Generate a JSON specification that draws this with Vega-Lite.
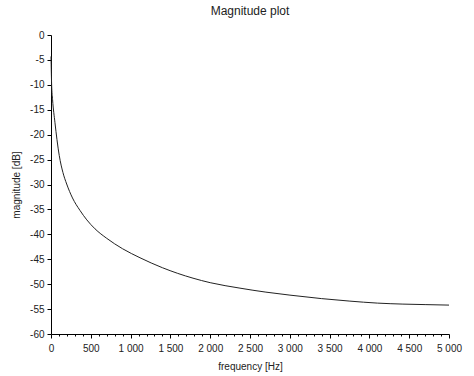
{
  "$schema": "https://vega.github.io/schema/vega-lite/v6.json",
  "width": 398,
  "height": 299,
  "autosize": {"type": "none"},
  "padding": {"left": 51, "top": 35, "right": 25, "bottom": 42},
  "background": "white",
  "config": {
    "view": {"stroke": null},
    "font": "Liberation Sans",
    "axis": {"grid": false, "domainColor": "#000", "tickColor": "#000", "labelColor": "#222", "titleColor": "#222", "labelFont": "Liberation Sans", "titleFont": "Liberation Sans", "labelFontSize": 10, "titleFontSize": 10, "titleFontWeight": "normal", "labelFlush": false, "labelOverlap": false}
  },
  "title": {"text": "Magnitude plot", "fontSize": 12, "fontWeight": "normal", "color": "#222", "font": "Liberation Sans", "anchor": "middle", "offset": 12},
  "data": {"values": [
    {"f": 0, "db": -4.3},
    {"f": 8, "db": -10.0},
    {"f": 20, "db": -13.0},
    {"f": 50, "db": -17.6},
    {"f": 75, "db": -21.0},
    {"f": 104, "db": -24.2},
    {"f": 150, "db": -27.6},
    {"f": 197, "db": -29.9},
    {"f": 270, "db": -32.7},
    {"f": 364, "db": -35.2},
    {"f": 450, "db": -37.1},
    {"f": 553, "db": -38.9},
    {"f": 700, "db": -40.8},
    {"f": 900, "db": -42.9},
    {"f": 1118, "db": -44.7},
    {"f": 1400, "db": -46.7},
    {"f": 1784, "db": -48.8},
    {"f": 2000, "db": -49.7},
    {"f": 2374, "db": -50.8},
    {"f": 2700, "db": -51.6},
    {"f": 3002, "db": -52.2},
    {"f": 3400, "db": -52.9},
    {"f": 3755, "db": -53.4},
    {"f": 4100, "db": -53.8},
    {"f": 4421, "db": -54.0},
    {"f": 4700, "db": -54.1},
    {"f": 5000, "db": -54.2}
  ]},
  "layer": [
    {
      "mark": {"type": "line", "color": "#222", "strokeWidth": 1, "interpolate": "monotone"},
      "encoding": {
        "x": {"field": "f", "type": "quantitative", "scale": {"domain": [0, 5000], "nice": false},
          "axis": {"title": "frequency [Hz]", "orient": "bottom", "values": [0, 500, 1000, 1500, 2000, 2500, 3000, 3500, 4000, 4500, 5000], "tickSize": 4, "labelPadding": 5, "titlePadding": 8, "labelExpr": "replace(format(datum.value, ',d'), ',', ' ')"}},
        "y": {"field": "db", "type": "quantitative", "scale": {"domain": [-60, 0], "nice": false},
          "axis": {"title": "magnitude [dB]", "values": [0, -5, -10, -15, -20, -25, -30, -35, -40, -45, -50, -55, -60], "tickSize": 4, "labelPadding": 3, "titlePadding": 8, "labelExpr": "datum.value < 0 ? '-' + format(-datum.value, 'd') : '0'"}}
      }
    },
    {
      "mark": {"type": "line", "opacity": 0},
      "encoding": {
        "x": {"field": "f", "type": "quantitative", "scale": {"domain": [0, 5000], "nice": false},
          "axis": {"title": null, "orient": "bottom", "labels": false, "domain": false, "tickSize": 2, "values": [100,200,300,400,600,700,800,900,1100,1200,1300,1400,1600,1700,1800,1900,2100,2200,2300,2400,2600,2700,2800,2900,3100,3200,3300,3400,3600,3700,3800,3900,4100,4200,4300,4400,4600,4700,4800,4900]}}
      }
    }
  ],
  "resolve": {"axis": {"x": "independent"}}
}
